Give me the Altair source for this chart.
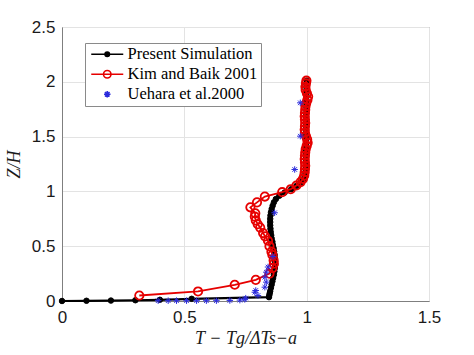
import altair as alt
import pandas as pd

SERIES = ["Present Simulation", "Kim and Baik 2001", "Uehara et al.2000"]
COLORS = ["#000000", "#e60000", "#2b2bdc"]

# Present Simulation (black line with filled dots)
pres_x = [0.0, 0.1, 0.2, 0.3, 0.4, 0.53, 0.846, 0.847, 0.849, 0.851,
          0.854, 0.857, 0.86, 0.863, 0.866, 0.868, 0.87, 0.871, 0.871, 0.87,
          0.869, 0.867, 0.865, 0.862, 0.86, 0.857, 0.855, 0.853, 0.852, 0.851,
          0.851, 0.851, 0.852, 0.854, 0.857, 0.861, 0.866, 0.874, 0.888, 0.91,
          0.937, 0.958, 0.975, 0.986, 0.992,
          0.995, 0.996, 0.997, 0.997, 0.997, 0.997, 0.997, 0.997, 0.998, 0.998,
          0.998, 0.998, 0.998, 0.998, 0.998, 0.998, 0.998, 0.998, 0.998, 0.999,
          0.999, 0.999, 0.999, 0.999, 0.999, 0.999, 0.999, 0.999, 1.0]
pres_y = [0.0, 0.002, 0.004, 0.007, 0.011, 0.02, 0.035, 0.05, 0.07, 0.09,
          0.12, 0.15, 0.18, 0.21, 0.24, 0.27, 0.3, 0.33, 0.36, 0.39,
          0.42, 0.45, 0.48, 0.51, 0.54, 0.57, 0.6, 0.63, 0.66, 0.69,
          0.72, 0.75, 0.78, 0.81, 0.84, 0.87, 0.9, 0.93, 0.96, 0.99,
          1.02, 1.05, 1.08, 1.11, 1.14,
          1.17, 1.2, 1.23, 1.26, 1.29, 1.32, 1.35, 1.38, 1.41, 1.44,
          1.47, 1.5, 1.53, 1.56, 1.59, 1.62, 1.65, 1.68, 1.71, 1.74,
          1.77, 1.8, 1.83, 1.86, 1.89, 1.92, 1.95, 1.98, 2.01]

# Kim and Baik 2001 (red line with open circles)
kim_x = [0.316, 0.556, 0.706, 0.792, 0.848, 0.86, 0.866, 0.865, 0.86, 0.856,
         0.848, 0.842, 0.83, 0.822, 0.81, 0.8, 0.792, 0.788, 0.79, 0.77,
         0.797, 0.829, 0.9, 0.935, 0.958, 0.975, 0.985,
         0.99, 0.992, 0.993, 0.994, 0.993, 0.992, 0.993, 0.994, 0.996, 1.0,
         1.004, 1.002, 0.997, 0.993, 0.992, 0.993, 0.994, 0.993, 0.992, 0.993,
         0.994, 0.995, 0.998, 1.003, 1.006, 1.001, 0.996, 0.995, 0.997, 0.999]
kim_y = [0.05, 0.087, 0.148, 0.193, 0.25, 0.3, 0.34, 0.37, 0.42, 0.45,
         0.5, 0.55, 0.59, 0.62, 0.67, 0.7, 0.735, 0.77, 0.8, 0.855,
         0.9, 0.953, 0.993, 1.02, 1.054, 1.085, 1.115,
         1.145, 1.175, 1.205, 1.235, 1.265, 1.295, 1.325, 1.355, 1.385, 1.415,
         1.445, 1.475, 1.505, 1.535, 1.565, 1.595, 1.625, 1.655, 1.685, 1.715,
         1.745, 1.775, 1.805, 1.835, 1.865, 1.895, 1.925, 1.955, 1.985, 2.01]

# Uehara et al. 2000 (blue asterisks)
ueh_x = [0.393, 0.434, 0.468, 0.509, 0.55, 0.59, 0.631, 0.686, 0.727, 0.747,
         0.751, 0.788, 0.801, 0.792, 0.829, 0.835, 0.829, 0.835, 0.842, 0.862,
         0.869, 0.951, 0.974, 0.974]
ueh_y = [0.003, 0.003, 0.003, 0.003, 0.003, 0.003, 0.003, 0.005, 0.008, 0.015,
         0.026, 0.08, 0.05, 0.096, 0.126, 0.172, 0.217, 0.263, 0.31, 0.406,
         0.805, 1.2, 1.504, 1.808]

X_TICKS = [0, 0.5, 1, 1.5]
Y_TICKS = [0, 0.5, 1, 1.5, 2, 2.5]

assert len(pres_x) == len(pres_y) and len(kim_x) == len(kim_y) and len(ueh_x) == len(ueh_y)

rows = []
for name, xs, ys in [(SERIES[0], pres_x, pres_y), (SERIES[1], kim_x, kim_y), (SERIES[2], ueh_x, ueh_y)]:
    for i, (a, b) in enumerate(zip(xs, ys)):
        rows.append({"series": name, "x": a, "y": b, "i": i})
df = pd.DataFrame(rows)

STAR = "M-1,0L1,0M0,-1L0,1M-0.7,-0.7L0.7,0.7M-0.7,0.7L0.7,-0.7"


def ring(r):
    return f"M{-r},0A{r},{r},0,1,1,{r},0A{r},{r},0,1,1,{-r},0"


LEG_FILLED = "M-3.2,0L3.2,0" + ring(0.45) + ring(0.27) + ring(0.1)
LEG_OPEN = "M-3.2,0L3.2,0" + ring(0.75)
LEG_STAR = "M-0.65,0L0.65,0M0,-0.65L0,0.65M-0.46,-0.46L0.46,0.46M-0.46,0.46L0.46,-0.46"

xenc = alt.X("x:Q", scale=alt.Scale(domain=[0, 1.5], nice=False),
             axis=alt.Axis(values=X_TICKS, title="T − Tg/ΔTs−a", format="~g"))
yenc = alt.Y("y:Q", scale=alt.Scale(domain=[0, 2.5], nice=False),
             axis=alt.Axis(values=Y_TICKS, title="Z/H", format="~g"))

legend = alt.Legend(
    title=None, orient="none", legendX=23, legendY=16,
    labelFont="Liberation Serif", labelFontSize=16.5, labelColor="#000000",
    strokeColor="#8a8a8a", fillColor="#ffffff", padding=3, rowPadding=3,
    symbolSize=100, symbolOffset=11, labelOffset=12, symbolStrokeWidth=1.6,
    symbolOpacity=1, symbolFillColor="transparent",
)
color_scale = alt.Scale(domain=SERIES, range=COLORS)
color = alt.Color("series:N", scale=color_scale, legend=legend)

base = alt.Chart(df).encode(x=xenc, y=yenc, color=color, order="i:Q")

line_p = base.transform_filter(alt.datum.series == SERIES[0]).mark_line(strokeWidth=2.2)
pts_p = base.transform_filter(alt.datum.series == SERIES[0]).mark_point(
    shape="circle", filled=False, fill="#000000", size=30, strokeWidth=1, opacity=1)
line_k = base.transform_filter(alt.datum.series == SERIES[1]).mark_line(strokeWidth=1.8)
pts_k = base.transform_filter(alt.datum.series == SERIES[1]).mark_point(
    shape="circle", filled=False, size=70, strokeWidth=1.8, opacity=1)
pts_u = base.transform_filter(alt.datum.series == SERIES[2]).mark_point(
    shape=STAR, filled=False, size=42, strokeWidth=1.0, opacity=1)

# legend-only layer (no rows pass the filter; entries come from the scale domains)
leg_layer = alt.Chart(df).transform_filter("false").mark_point(filled=False, opacity=1).encode(
    x=xenc, y=yenc, color=color,
    shape=alt.Shape("series:N", scale=alt.Scale(domain=SERIES, range=[LEG_FILLED, LEG_OPEN, LEG_STAR]),
                    legend=legend),
)

chart = alt.layer(leg_layer, line_p, pts_p, line_k, pts_k, pts_u).properties(
    width=367, height=274,
    background="white",
    autosize=alt.AutoSizeParams(type="none"),
    padding={"left": 62, "top": 27, "right": 45, "bottom": 54},
).configure_view(
    stroke="#7f7f7f", strokeWidth=1
).configure_axis(
    grid=True, gridColor="#e3e3e3", gridWidth=1,
    domainColor="#7f7f7f", domainWidth=1,
    ticks=False, labelFlush=False,
    labelFont="Liberation Sans", labelFontSize=17, labelColor="#1a1a1a",
    titleFont="Liberation Serif", titleFontSize=18, titleFontStyle="italic",
    titleFontWeight="normal", titleColor="#1a1a1a",
).configure_axisX(
    labelPadding=8, titlePadding=4
).configure_axisY(
    labelPadding=7, titlePadding=8
)

chart.save("out.html", embed_options={"renderer": "svg", "actions": False})
